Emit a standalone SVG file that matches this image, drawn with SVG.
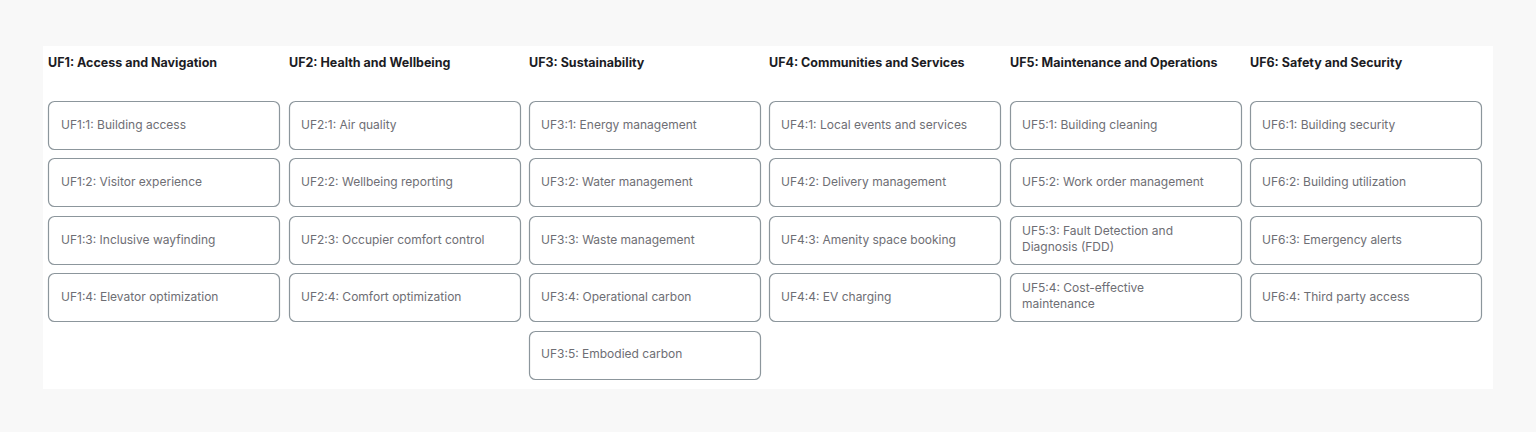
<svg xmlns="http://www.w3.org/2000/svg" width="1536" height="432" viewBox="0 0 1536 432">
<style>
.h{font-family:Inter,"Liberation Sans",sans-serif;font-weight:700;font-size:12.5px;fill:#1c1c24}
.b{fill:#fff;stroke:#8c969c;stroke-width:1.2}
.t{font-family:Inter,"Liberation Sans",sans-serif;font-size:12px;fill:#6e6e74}
</style>
<rect width="1536" height="432" fill="#f8f8f8"/>
<rect x="43" y="46" width="1450" height="343" fill="#fff"/>
<g id="col1">
<text class="h" x="48" y="67">UF1: Access and Navigation</text>
<g id="uf1-1"><rect class="b" x="48.5" y="101.5" width="231" height="48" rx="6"/><text class="t" x="61" y="129">UF1:1: Building access</text></g>
<g id="uf1-2"><rect class="b" x="48.5" y="158.5" width="231" height="48" rx="6"/><text class="t" x="61" y="186">UF1:2: Visitor experience</text></g>
<g id="uf1-3"><rect class="b" x="48.5" y="216.5" width="231" height="48" rx="6"/><text class="t" x="61" y="244">UF1:3: Inclusive wayfinding</text></g>
<g id="uf1-4"><rect class="b" x="48.5" y="273.5" width="231" height="48" rx="6"/><text class="t" x="61" y="301">UF1:4: Elevator optimization</text></g>
</g>
<g id="col2">
<text class="h" x="289" y="67">UF2: Health and Wellbeing</text>
<g id="uf2-1"><rect class="b" x="289.5" y="101.5" width="231" height="48" rx="6"/><text class="t" x="301" y="129">UF2:1: Air quality</text></g>
<g id="uf2-2"><rect class="b" x="289.5" y="158.5" width="231" height="48" rx="6"/><text class="t" x="301" y="186">UF2:2: Wellbeing reporting</text></g>
<g id="uf2-3"><rect class="b" x="289.5" y="216.5" width="231" height="48" rx="6"/><text class="t" x="301" y="244">UF2:3: Occupier comfort control</text></g>
<g id="uf2-4"><rect class="b" x="289.5" y="273.5" width="231" height="48" rx="6"/><text class="t" x="301" y="301">UF2:4: Comfort optimization</text></g>
</g>
<g id="col3">
<text class="h" x="529" y="67">UF3: Sustainability</text>
<g id="uf3-1"><rect class="b" x="529.5" y="101.5" width="231" height="48" rx="6"/><text class="t" x="541" y="129">UF3:1: Energy management</text></g>
<g id="uf3-2"><rect class="b" x="529.5" y="158.5" width="231" height="48" rx="6"/><text class="t" x="541" y="186">UF3:2: Water management</text></g>
<g id="uf3-3"><rect class="b" x="529.5" y="216.5" width="231" height="48" rx="6"/><text class="t" x="541" y="244">UF3:3: Waste management</text></g>
<g id="uf3-4"><rect class="b" x="529.5" y="273.5" width="231" height="48" rx="6"/><text class="t" x="541" y="301">UF3:4: Operational carbon</text></g>
<g id="uf3-5"><rect class="b" x="529.5" y="331.5" width="231" height="48" rx="6"/><text class="t" x="541" y="358">UF3:5: Embodied carbon</text></g>
</g>
<g id="col4">
<text class="h" x="769" y="67">UF4: Communities and Services</text>
<g id="uf4-1"><rect class="b" x="769.5" y="101.5" width="231" height="48" rx="6"/><text class="t" x="781" y="129">UF4:1: Local events and services</text></g>
<g id="uf4-2"><rect class="b" x="769.5" y="158.5" width="231" height="48" rx="6"/><text class="t" x="781" y="186">UF4:2: Delivery management</text></g>
<g id="uf4-3"><rect class="b" x="769.5" y="216.5" width="231" height="48" rx="6"/><text class="t" x="781" y="244">UF4:3: Amenity space booking</text></g>
<g id="uf4-4"><rect class="b" x="769.5" y="273.5" width="231" height="48" rx="6"/><text class="t" x="781" y="301">UF4:4: EV charging</text></g>
</g>
<g id="col5">
<text class="h" x="1010" y="67">UF5: Maintenance and Operations</text>
<g id="uf5-1"><rect class="b" x="1010.5" y="101.5" width="231" height="48" rx="6"/><text class="t" x="1022" y="129">UF5:1: Building cleaning</text></g>
<g id="uf5-2"><rect class="b" x="1010.5" y="158.5" width="231" height="48" rx="6"/><text class="t" x="1022" y="186">UF5:2: Work order management</text></g>
<g id="uf5-3"><rect class="b" x="1010.5" y="216.5" width="231" height="48" rx="6"/><text class="t" x="1022" y="235">UF5:3: Fault Detection and</text><text class="t" x="1022" y="251">Diagnosis (FDD)</text></g>
<g id="uf5-4"><rect class="b" x="1010.5" y="273.5" width="231" height="48" rx="6"/><text class="t" x="1022" y="292">UF5:4: Cost-effective</text><text class="t" x="1022" y="308">maintenance</text></g>
</g>
<g id="col6">
<text class="h" x="1250" y="67">UF6: Safety and Security</text>
<g id="uf6-1"><rect class="b" x="1250.5" y="101.5" width="231" height="48" rx="6"/><text class="t" x="1262" y="129">UF6:1: Building security</text></g>
<g id="uf6-2"><rect class="b" x="1250.5" y="158.5" width="231" height="48" rx="6"/><text class="t" x="1262" y="186">UF6:2: Building utilization</text></g>
<g id="uf6-3"><rect class="b" x="1250.5" y="216.5" width="231" height="48" rx="6"/><text class="t" x="1262" y="244">UF6:3: Emergency alerts</text></g>
<g id="uf6-4"><rect class="b" x="1250.5" y="273.5" width="231" height="48" rx="6"/><text class="t" x="1262" y="301">UF6:4: Third party access</text></g>
</g>
<g id="connectors"/>
</svg>
